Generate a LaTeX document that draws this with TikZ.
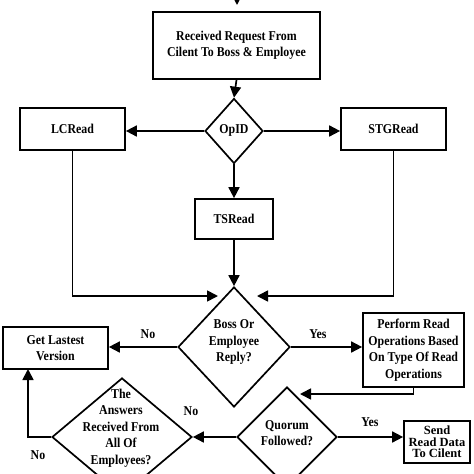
\documentclass[tikz,border=0pt]{standalone}
\usepackage{fontspec}
\setmainfont{Liberation Serif}[FakeStretch=0.88]
\newfontfamily\wideserif{Liberation Serif}
\usetikzlibrary{arrows.meta,shapes.geometric}
\newcommand{\lab}{\fontsize{13.5}{16.5}\selectfont\bfseries}
\newcommand{\labsend}{\wideserif\fontsize{12.5}{11.5}\selectfont\bfseries}
\tikzset{
  base/.style={draw, line width=1.7pt, font=\lab, align=center},
  box/.style={base, rectangle, inner sep=0pt},
  dia/.style={base, diamond, inner sep=0pt},
  txt/.style={font=\lab, align=center, inner sep=0pt},
  arr/.style={line width=1.7pt, -{Triangle[length=11pt,width=11pt]}},
  ln/.style={line width=1.7pt}
}
\begin{document}
\begin{tikzpicture}[x=1pt,y=-1pt]
\useasboundingbox (0,0) rectangle (474,474);
% boxes
\node[box, minimum width=167pt, minimum height=67pt] (recv) at (236.5,45.5) {Received Request From\\Cilent To Boss \& Employee};
\node[box, minimum width=105pt, minimum height=42pt] (lc) at (72.5,129) {LCRead};
\node[box, minimum width=105pt, minimum height=42pt] (stg) at (393.5,129) {STGRead};
\node[box, minimum width=78pt, minimum height=40pt] (ts) at (234,219) {TSRead};
\node[box, minimum width=105pt, minimum height=42pt] (gl) at (55.5,348) {Get Lastest\\Version};
\node[box, minimum width=101pt, minimum height=74pt] (perf) at (413.5,350) {Perform Read\\Operations Based\\On Type Of Read\\Operations};
\node[box, font=\labsend, minimum width=66pt, minimum height=42pt] (send) at (437,442) {Send\\Read Data\\To Cilent};
% diamonds
\node[dia, minimum width=58pt, minimum height=65pt] (op) at (234,131) {};
\node[txt] (opt) at (234,130) {OpID};
\node[dia, minimum width=112pt, minimum height=120pt] (boss) at (234,347) {};
\node[txt] (bosst) at (234,342) {Boss Or\\Employee\\Reply?};
\node[dia, minimum width=100pt, minimum height=100pt] (quo) at (287,437) {};
\node[txt] (quot) at (287,433) {Quorum\\Followed?};
\node[dia, minimum width=140pt, minimum height=118pt] (ans) at (122,437) {};
\node[txt] (anst) at (121,428) {The\\Answers\\Received From\\All Of\\Employees?};
% helper coordinates
\coordinate (topin) at (237,-10);
\coordinate (topend) at (237,5);
\coordinate (lcin) at (218,296);
\coordinate (stgin) at (257,296);
\coordinate (perfin) at (300,394);
\coordinate (glin) at (28,369);
% connectors
\draw[arr] (topin) -- (topend);
\draw[arr] (recv.south) -- (op.north);
\draw[arr] (op.west) -- (op.west -| lc.east);
\draw[arr] (op.east) -- (op.east -| stg.west);
\draw[arr] (op.south) -- (ts.north);
\draw[arr] (ts.south) -- (boss.north);
\draw[arr] (lc.south) |- (lcin);
\draw[arr] (stg.south) |- (stgin);
\draw[arr] (boss.west) -- (boss.west -| gl.east);
\draw[arr] (boss.east) -- (boss.east -| perf.west);
\draw[arr] (perf.south) |- (perfin);
\draw[arr] (quo.west) -- (ans.east);
\draw[arr] (quo.east) -- (quo.east -| send.west);
\draw[arr] (ans.west) -| (glin);
% labels
\node[txt] (lno1) at (148,334) {No};
\node[txt] (lyes1) at (318,334) {Yes};
\node[txt] (lno2) at (191,411) {No};
\node[txt] (lyes2) at (370,422) {Yes};
\node[txt] (lno3) at (38,455) {No};
\end{tikzpicture}
\end{document}
